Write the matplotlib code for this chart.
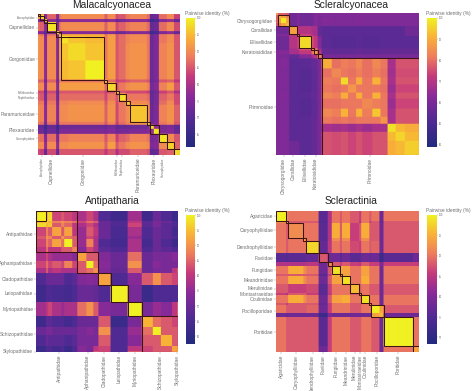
# pairwise identity heatmaps for four coral orders
import numpy as np
import matplotlib
matplotlib.use('Agg')
from matplotlib import pyplot as plt
from matplotlib.colors import LinearSegmentedColormap
from matplotlib.patches import Rectangle

plt.rcParams['font.family'] = ['Liberation Sans', 'DejaVu Sans']

# washed out plasma
cmap = LinearSegmentedColormap.from_list('faded_plasma', [
    (0.0, '#232a7e'), (0.2, '#4f2a93'), (0.4, '#8a2a98'), (0.55, '#c53a7c'),
    (0.7, '#ee7c5c'), (0.85, '#f9b038'), (1.0, '#f0f022')])

# Malacalcyonacea
mal_sizes = [2, 4, 3, 9, 3, 2, 7, 17, 19, 3, 8, 3, 7, 4, 17, 3, 4, 5, 8, 7, 6]
mal_rows = [
    [98, 92, 76, 87, 76, 89, 91, 91, 91, 86, 90, 84, 86, 88, 90, 88, 72, 74, 88, 90, 84],
    [98, 76, 86, 75, 88, 90, 90, 90, 86, 90, 84, 85, 88, 89, 87, 72, 73, 87, 90, 83],
    [97, 77, 70, 76, 77, 77, 77, 74, 77, 72, 74, 76, 77, 75, 66, 68, 76, 78, 72],
    [99, 76, 88, 90, 90, 90, 86, 90, 84, 86, 88, 89, 87, 72, 73, 87, 90, 84],
    [98, 76, 76, 76, 76, 74, 76, 72, 73, 75, 76, 75, 66, 68, 75, 77, 72],
    [98, 94, 94, 94, 88, 92, 85, 87, 89, 90, 88, 73, 75, 88, 90, 85],
    [99, 96, 95, 88, 92, 85, 87, 89, 90, 88, 73, 75, 88, 90, 85],
    [98, 96, 88, 92, 85, 87, 90, 91, 88, 73, 75, 89, 91, 85],
    [100, 88, 92, 85, 87, 90, 91, 88, 73, 75, 89, 91, 85],
    [97, 87, 83, 84, 85, 86, 85, 72, 74, 85, 86, 82],
    [98, 85, 88, 90, 91, 89, 74, 76, 89, 92, 85],
    [98, 85, 84, 84, 83, 71, 73, 83, 85, 80],
    [99, 88, 88, 87, 72, 74, 86, 88, 84],
    [97, 90, 89, 72, 74, 87, 90, 84],
    [96, 91, 73, 75, 89, 91, 86],
    [99, 74, 76, 88, 90, 85],
    [99, 78, 74, 75, 71],
    [99, 75, 76, 72],
    [99, 90, 85],
    [97, 86],
    [98],
]
mal_boxes = [(0, 0), (1, 1), (2, 2), (3, 3), (4, 5), (6, 8), (9, 9), (10, 10), (11, 11), (12, 12),
             (13, 13), (14, 14), (15, 15), (16, 17), (18, 18), (19, 19), (20, 20)]
mal_labels = ['Acrophytidae', 'Capnellidae', 'Gorgoniidae', 'Melithaeidae', 'Nephtheidae',
              'Paramuriceidae', 'Plexauridae', 'Sarcophytidae']
mal_spans = [(1, 1), (3, 3), (6, 8), (11, 11), (12, 12), (14, 14), (16, 17), (18, 18)]
mal_small = [True, False, False, True, True, False, False, True]
mal_ticks = [100, 95, 90, 85, 80, 75, 70, 65]

# Scleralcyonacea
scl_sizes = [2, 3, 5, 3, 8, 2, 12, 2, 4, 4, 10, 9, 7, 8, 6, 10, 8, 7, 8, 9, 14]
scl_rows = [
    [88, 78, 78, 76, 58, 62, 58, 58, 62, 62, 62, 62, 62, 62, 62, 62, 62, 62, 62, 62, 62],
    [92, 88, 82, 58, 62, 58, 58, 62, 60, 61, 61, 61, 61, 61, 61, 61, 61, 61, 61, 61],
    [99, 88, 58, 62, 58, 58, 62, 60, 62, 61, 61, 61, 62, 61, 61, 61, 61, 61, 61],
    [92, 58, 62, 58, 58, 62, 60, 61, 61, 61, 61, 61, 61, 61, 61, 61, 61, 61],
    [88, 70, 70, 68, 68, 56, 54, 54, 54, 54, 54, 54, 54, 54, 54, 54, 58],
    [84, 74, 70, 68, 56, 54, 54, 54, 54, 54, 54, 54, 54, 54, 54, 58],
    [97, 76, 72, 62, 54, 53, 53, 53, 54, 53, 53, 54, 54, 54, 54],
    [88, 80, 66, 56, 55, 55, 55, 56, 55, 55, 56, 56, 56, 56],
    [88, 70, 56, 55, 55, 55, 56, 55, 55, 56, 56, 56, 56],
    [84, 60, 60, 60, 60, 60, 60, 60, 60, 60, 60, 60],
    [90, 80, 82, 81, 84, 80, 84, 81, 68, 76, 76],
    [84, 81, 80, 82, 80, 82, 80, 67, 75, 75],
    [97, 81, 90, 81, 91, 81, 68, 76, 76],
    [86, 81, 81, 81, 80, 66, 74, 74],
    [90, 81, 91, 81, 68, 76, 76],
    [84, 82, 81, 66, 74, 74],
    [94, 81, 68, 76, 76],
    [86, 68, 76, 76],
    [98, 92, 90],
    [96, 92],
    [95],
]
scl_boxes = [(1, 3), (4, 4), (5, 5), (6, 6), (7, 7), (8, 8), (9, 9), (10, 20)]
scl_labels = ['Chrysogorgiidae', 'Corallidae', 'Ellisellidae', 'Keratoisididae', 'Primnoidae']
scl_spans = [(1, 3), (4, 4), (6, 6), (8, 8), (10, 20)]
scl_small = [False] * 5
scl_ticks = [100, 90, 80, 70, 60, 50, 40]

# Antipatharia
ant_sizes = [10, 2, 4, 9, 3, 8, 5, 9, 7, 5, 12, 17, 14, 11, 8, 11, 5, 1]
ant_rows = [
    [100, 94, 98, 82, 84, 82, 80, 78, 82, 78, 66, 63, 77, 63, 70, 66, 62, 62],
    [98, 94, 88, 90, 88, 86, 82, 86, 84, 70, 66, 80, 68, 72, 70, 66, 66],
    [96, 84, 88, 85, 80, 78, 82, 78, 70, 66, 82, 68, 72, 68, 66, 66],
    [92, 84, 92, 80, 76, 84, 80, 70, 65, 78, 66, 70, 68, 64, 64],
    [90, 86, 84, 76, 82, 78, 70, 65, 76, 66, 70, 68, 66, 66],
    [100, 84, 76, 88, 78, 66, 64, 78, 64, 70, 66, 62, 62],
    [88, 74, 82, 78, 68, 66, 78, 66, 70, 68, 66, 66],
    [92, 84, 84, 73, 70, 86, 70, 72, 72, 74, 74],
    [100, 86, 74, 70, 90, 70, 74, 72, 72, 72],
    [90, 73, 69, 84, 70, 72, 72, 80, 84],
    [92, 66, 74, 84, 90, 84, 82, 82],
    [100, 72, 62, 66, 66, 66, 66],
    [100, 72, 76, 74, 80, 84],
    [94, 86, 84, 82, 82],
    [100, 84, 84, 84],
    [94, 84, 84],
    [92, 90],
    [96],
]
ant_boxes = [(0, 0), (0, 6), (7, 9), (10, 10), (11, 11), (12, 12), (13, 17)]
ant_labels = ['Antipathidae', 'Aphanipathidae', 'Cladopathidae', 'Leiopathidae', 'Myriopathidae',
              'Schizopathidae', 'Stylopathidae']
ant_spans = [(1, 5), (7, 9), (10, 10), (11, 11), (12, 12), (13, 17), (17, 17)]
ant_small = [False] * 7
ant_ticks = [100, 95, 90, 85, 80, 75, 70, 65, 60]

# Scleractinia
sct_sizes = [10, 2, 15, 3, 12, 5, 4, 4, 8, 2, 8, 9, 2, 8, 2, 8, 4, 29, 6]
sct_rows = [
    [100, 92, 90, 90, 90, 76, 76, 84, 90, 88, 90, 88, 86, 90, 88, 90, 78, 90, 90],
    [94, 88, 88, 88, 75, 75, 84, 90, 88, 90, 88, 84, 90, 86, 88, 77, 88, 88],
    [92, 90, 90, 76, 76, 84, 95, 88, 95, 86, 88, 95, 88, 88, 78, 88, 88],
    [94, 90, 76, 76, 84, 92, 88, 92, 86, 88, 92, 88, 88, 78, 88, 88],
    [98, 77, 77, 85, 90, 88, 90, 87, 86, 90, 88, 89, 78, 88, 88],
    [88, 88, 78, 78, 76, 78, 76, 76, 78, 77, 78, 72, 76, 78],
    [88, 78, 78, 76, 78, 76, 76, 78, 77, 78, 72, 76, 78],
    [92, 88, 86, 88, 86, 85, 88, 86, 86, 80, 86, 86],
    [99, 95, 94, 90, 90, 94, 90, 90, 78, 90, 90],
    [94, 94, 90, 90, 94, 90, 90, 78, 90, 90],
    [99, 90, 90, 95, 90, 90, 78, 90, 90],
    [96, 88, 90, 88, 88, 78, 88, 88],
    [94, 90, 88, 88, 78, 88, 88],
    [99, 90, 90, 78, 90, 90],
    [94, 90, 78, 90, 90],
    [100, 94, 88, 88],
    [96, 78, 78],
    [100, 90],
    [94],
]
sct_boxes = [(0, 0), (1, 1), (2, 2), (3, 3), (4, 4), (5, 6), (7, 7), (8, 8), (9, 9), (10, 10),
             (11, 11), (12, 12), (13, 13), (14, 14), (15, 16), (17, 17), (18, 18)]
sct_labels = ['Agaricidae', 'Caryophylliidae', 'Dendrophylliidae', 'Faviidae', 'Fungiidae',
              'Meandrinidae', 'Merulinidae', 'Montastraeidae', 'Oculinidae', 'Pocilloporidae',
              'Poritidae']
sct_spans = [(0, 0), (2, 2), (4, 4), (5, 6), (8, 8), (10, 10), (11, 11), (12, 12), (13, 13),
             (15, 16), (17, 17)]
sct_small = [False] * 11
sct_ticks = [100, 95, 90, 85, 80, 75, 70]


def build(sizes, rows):
    # upper triangle typed by hand, mirrored, then blown up to cells
    n = len(sizes)
    m = np.zeros((n, n))
    for i, row in enumerate(rows):
        m[i, i:] = row
        m[i:, i] = row
    return np.repeat(np.repeat(m, sizes, axis=0), sizes, axis=1)


def px_axes(fig, x0, y0, x1, y1):
    W, H = fig.get_size_inches() * fig.dpi
    return fig.add_axes([x0 / W, 1 - y1 / H, (x1 - x0) / W, (y1 - y0) / H])


def panel(fig, title, sizes, rows, boxes, labels, spans, small, ticks, vmin, box, cbox, title_xy):
    ax = px_axes(fig, *box)
    data = build(sizes, rows)
    im = ax.imshow(data, cmap=cmap, vmin=vmin, vmax=100, aspect='auto', interpolation='bilinear')
    edges = np.concatenate([[0], np.cumsum(sizes)]) - 0.5
    for a, b in boxes:
        ax.add_patch(Rectangle((edges[a], edges[a]), edges[b + 1] - edges[a], edges[b + 1] - edges[a],
                               fill=False, ec='#3b1414', lw=0.75))
    pos = [(edges[a] + edges[b + 1]) / 2 for a, b in spans]
    if labels[-1] == 'Stylopathidae':
        pos[-1] = edges[-1] - 0.5
    ax.set_xticks(pos)
    ax.set_yticks(pos)
    ax.set_xticklabels(labels, rotation=90)
    ax.set_yticklabels(labels)
    for axis_labels in (ax.get_xticklabels(), ax.get_yticklabels()):
        for t, s in zip(axis_labels, small):
            t.set_fontsize(2.2 if s else 3.5)
            t.set_color('#707070')
    ax.tick_params(length=1.2, width=0.3, color='#888888', pad=0.8)
    for s in ax.spines.values():
        s.set_visible(False)
    W, H = fig.get_size_inches() * fig.dpi
    fig.text(title_xy[0] / W, 1 - title_xy[1] / H, title, ha='center', va='center', fontsize=7.4, color='#222222')

    cax = px_axes(fig, *cbox)
    cb = fig.colorbar(im, cax=cax)
    cb.outline.set_visible(False)
    cb.set_ticks(ticks)
    cb.ax.tick_params(labelsize=1.8, length=0.8, width=0.3, color='#888888', labelcolor='#666666', pad=0.4)
    fig.text((cbox[0] - 1) / W, 1 - (cbox[1] - 4.5) / H, 'Pairwise identity (%)', ha='left', va='center',
             fontsize=3.5, color='#707070')


fig = plt.figure(figsize=(4.74, 3.91), dpi=100)
panel(fig, 'Malacalcyonacea', mal_sizes, mal_rows, mal_boxes, mal_labels, mal_spans, mal_small, mal_ticks,
      61.2, (38, 14, 180, 155), (186, 18, 195, 147), (112, 5))
panel(fig, 'Scleralcyonacea', scl_sizes, scl_rows, scl_boxes, scl_labels, scl_spans, scl_small, scl_ticks,
      39, (276, 13, 419, 155), (427, 18, 437, 147), (351, 5))
panel(fig, 'Antipatharia', ant_sizes, ant_rows, ant_boxes, ant_labels, ant_spans, ant_small, ant_ticks,
      57.5, (36, 211, 178, 352), (186, 215, 195, 344), (112, 201))
panel(fig, 'Scleractinia', sct_sizes, sct_rows, sct_boxes, sct_labels, sct_spans, sct_small, sct_ticks,
      68.4, (276, 211, 419, 352), (427, 215, 437, 344), (351, 201))
fig.savefig('out.png', dpi=100)
